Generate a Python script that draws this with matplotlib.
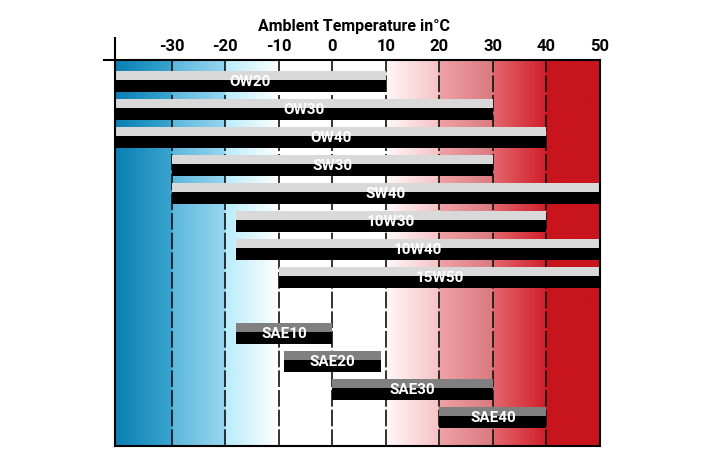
import numpy as np
import matplotlib
matplotlib.use("Agg")
import matplotlib.pyplot as plt
from matplotlib.colors import to_rgb

# ---- data ----
grades = ["OW20", "OW30", "OW40", "SW30", "SW40", "10W30", "10W40", "15W50",
          "SAE10", "SAE20", "SAE30", "SAE40"]
low_temp = [-40.6, -40.6, -40.6, -30, -30, -18, -18, -10, -18, -9, 0, 20]
high_temp = [10, 30, 40, 30, 50, 40, 50, 50, 0, 9, 30, 40]
row_index = [0, 1, 2, 3, 4, 5, 6, 7, 9, 10, 11, 12]
grade_kind = ["multi"] * 8 + ["mono"] * 4
tick_values = [-30, -20, -10, 0, 10, 20, 30, 40, 50]
tick_labels = ["-30", "-20", "-10", "0", "10", "20", "30", "40", "50"]
title = "Amblent Temperature in\u00b0C"

# ---- style ----
XMIN, XMAX = -40.6, 50
band_edges = [-40.6, -30, -20, -10, 10, 20, 30, 40, 50]
band_colors = [("#0a7fb4", "#3aa5cf"), ("#5bb7dd", "#98d6ef"),
               ("#b8ecfb", "#ffffff"), ("#ffffff", "#ffffff"),
               ("#fff8f8", "#f6c2c5"), ("#f0a2a6", "#d97a80"),
               ("#e4686e", "#cf1e2a"), ("#c8141c", "#c8141c")]
light_gray = "#d9d9d9"
dark_gray = "#808080"
FONT = ["Roboto", "DejaVu Sans"]

fig = plt.figure(figsize=(7.17, 4.67), dpi=100)
W, H = 717, 467
ax = fig.add_axes([115 / W, 21 / H, 485 / W, 386 / H])
ytop, ybot = -0.714, 13.07
ax.set_xlim(XMIN, XMAX)
ax.set_ylim(ybot, ytop)

# background gradient
xs = np.linspace(XMIN, XMAX, 1200)
img = np.zeros((1, xs.size, 3))
for (a, b), (c1, c2) in zip(zip(band_edges[:-1], band_edges[1:]), band_colors):
    m = (xs >= a) & (xs <= b)
    t = ((xs[m] - a) / (b - a))[:, None]
    img[0, m, :] = (1 - t) * np.array(to_rgb(c1)) + t * np.array(to_rgb(c2))
ax.imshow(img, extent=[XMIN, XMAX, ybot, ytop], aspect="auto", zorder=0,
          interpolation="bilinear")

# dashed grid lines
for t in tick_values[:-1]:
    ax.axvline(t, color="#111111", lw=1.2, ls=(0, (10, 1.8)), zorder=1)

# bars
for g, lo, hi, r, k in zip(grades, low_temp, high_temp, row_index, grade_kind):
    top_color = light_gray if k == "multi" else dark_gray
    ax.barh(r - 0.16, hi - lo, left=lo, height=0.32, color=top_color,
            zorder=2, linewidth=0)
    ax.barh(r + 0.215, hi - lo, left=lo, height=0.43, color="black",
            zorder=2, linewidth=0)
    ax.text((lo + hi) / 2, r + 0.07, g, ha="center", va="center",
            color="white", fontweight="bold", fontsize=11, family=FONT,
            zorder=3)

# spines / axes lines
for s in ax.spines.values():
    s.set_color("black")
    s.set_linewidth(1.5)
    s.set_zorder(4)
ax.plot([-12 / 485, 0], [1, 1], transform=ax.transAxes, clip_on=False,
        color="black", lw=1.5, solid_capstyle="butt")
ax.plot([0, 0], [1, 1 + 23 / 386], transform=ax.transAxes, clip_on=False,
        color="black", lw=1.5, solid_capstyle="butt")

ax.xaxis.tick_top()
ax.set_xticks(tick_values)
ax.set_xticklabels(tick_labels, fontweight="bold", fontsize=12, family=FONT)
ax.tick_params(axis="x", length=0, pad=4)
ax.set_yticks([])

fig.text(354 / W, 1 - 26 / H, title, ha="center", va="center",
         fontsize=11.5, fontweight="bold", family=FONT)

fig.savefig("out.png", dpi=100, facecolor="white")
